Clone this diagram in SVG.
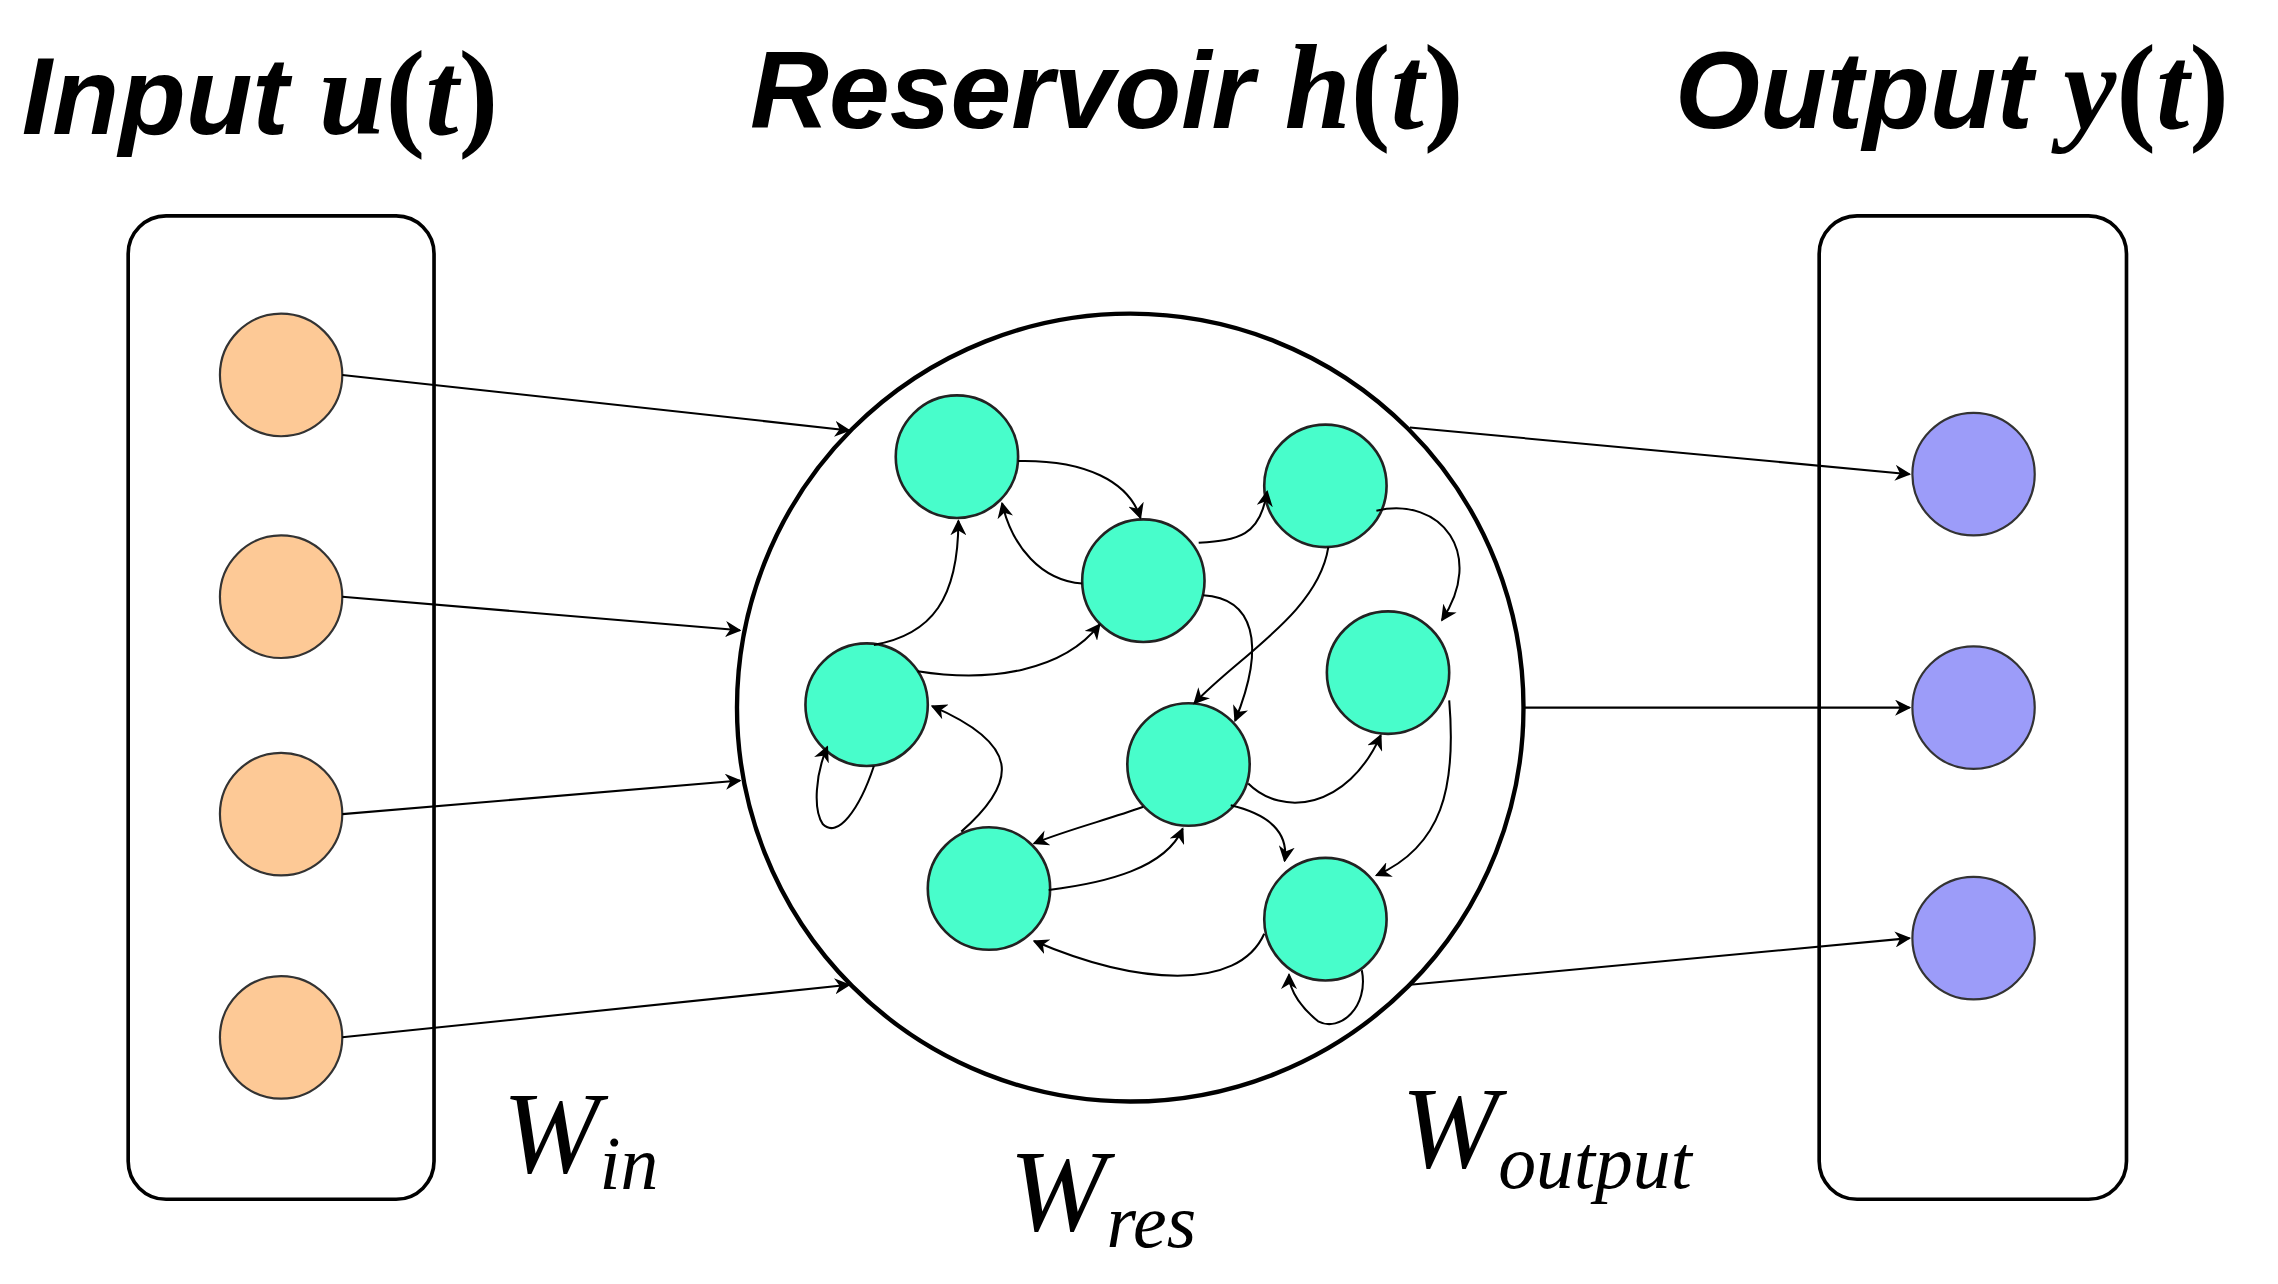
<svg xmlns="http://www.w3.org/2000/svg" width="2278" height="1284" viewBox="0 0 2278 1284">
<style>
.box{fill:#fff;stroke:#000;stroke-width:2.5}
.in{fill:#fdc996;stroke:#333;stroke-width:1.5}
.out{fill:#9c9cf9;stroke:#333;stroke-width:1.5}
.res{fill:#48fdcb;stroke:#222;stroke-width:1.8}
.e{fill:none;stroke:#000;stroke-width:1.4;marker-end:url(#ah)}
.t{font-family:"Liberation Sans",Arial,sans-serif;font-weight:bold;font-style:italic;font-size:75px}
.m{font-family:"Liberation Serif","Times New Roman",serif;font-style:italic;font-size:82px}
.p{font-style:normal}
.w{font-family:"Liberation Serif","Times New Roman",serif;font-style:italic;font-size:80px}
.s{font-size:52px}
</style>
<defs>
<marker id="ah" viewBox="0 0 10 10" refX="9" refY="5" markerWidth="11" markerHeight="11" markerUnits="userSpaceOnUse" orient="auto">
<path d="M0,0 L10,5 L0,10 L3,5 Z" fill="#000"/>
</marker>
</defs>
<rect width="2278" height="1284" fill="#fff"/>
<g transform="scale(1.4565 1.459)">
<g id="titles">
<text x="15" y="92" class="t">Input <tspan class="m">u<tspan class="p">(</tspan>t<tspan class="p">)</tspan></tspan></text>
<text x="515" y="88" class="t">Reservoir <tspan class="m">h<tspan class="p">(</tspan>t<tspan class="p">)</tspan></tspan></text>
<text x="1150" y="88" class="t">Output <tspan class="m">y<tspan class="p">(</tspan>t<tspan class="p">)</tspan></tspan></text>
</g>
<g id="input-layer">
<rect class="box" x="88" y="148" width="210" height="674" rx="26"/>
<circle class="in" cx="193" cy="257" r="42"/>
<circle class="in" cx="193" cy="409" r="42"/>
<circle class="in" cx="193" cy="558" r="42"/>
<circle class="in" cx="193" cy="711" r="42"/>
</g>
<g id="output-layer">
<rect class="box" x="1249" y="148" width="211" height="674" rx="26"/>
<circle class="out" cx="1355" cy="325" r="42"/>
<circle class="out" cx="1355" cy="485" r="42"/>
<circle class="out" cx="1355" cy="643" r="42"/>
</g>
<g id="reservoir">
<circle cx="776" cy="485" r="270" fill="#fff" stroke="#000" stroke-width="3"/>
<circle class="res" cx="657" cy="313" r="42"/>
<circle class="res" cx="785" cy="398" r="42"/>
<circle class="res" cx="910" cy="333" r="42"/>
<circle class="res" cx="595" cy="483" r="42"/>
<circle class="res" cx="953" cy="461" r="42"/>
<circle class="res" cx="816" cy="524" r="42"/>
<circle class="res" cx="679" cy="609" r="42"/>
<circle class="res" cx="910" cy="630" r="42"/>
</g>
<g id="connectors">
<path class="e" d="M235,257 L583,295"/>
<path class="e" d="M235,409 L508,432"/>
<path class="e" d="M235,558 L508,535"/>
<path class="e" d="M235,711 L583,675"/>
<path class="e" d="M968,293 L1311,325"/>
<path class="e" d="M1046,485 L1311,485"/>
<path class="e" d="M968,675 L1311,643"/>
<path class="e" d="M699,316 C745,315 775,330 783,355"/>
<path class="e" d="M743,400 C715,398 695,375 688,345"/>
<path class="e" d="M823,372 C850,370 865,368 870,337"/>
<path class="e" d="M600,442 C640,435 658,410 658,357"/>
<path class="e" d="M630,460 C680,468 730,460 755,428"/>
<path class="e" d="M945,350 C990,340 1020,380 990,425"/>
<path class="e" d="M912,375 C905,420 850,450 820,482"/>
<path class="e" d="M826,408 C860,410 870,440 848,494"/>
<path class="e" d="M857,537 C880,560 925,555 948,504"/>
<path class="e" d="M660,570 C700,535 700,510 640,484"/>
<path class="e" d="M785,553 C760,562 735,568 710,578"/>
<path class="e" d="M720,610 C760,605 800,595 812,568"/>
<path class="e" d="M845,552 C870,558 885,570 882,590"/>
<path class="e" d="M995,480 C1000,540 990,580 945,600"/>
<path class="e" d="M868,640 C850,680 780,675 710,645"/>
<path class="e" d="M600,525 C590,555 575,575 565,565 C558,555 560,530 568,512"/>
<path class="e" d="M935,665 C940,690 920,708 905,700 C895,692 885,680 885,668"/>
</g>
<g id="labels">
<text x="345" y="803" class="w">W<tspan class="s" dy="12">in</tspan></text>
<text x="693" y="843" class="w">W<tspan class="s" dy="12">res</tspan></text>
<text x="962" y="800" class="w">W<tspan class="s" dy="14">output</tspan></text>
</g>
</g>
</svg>
